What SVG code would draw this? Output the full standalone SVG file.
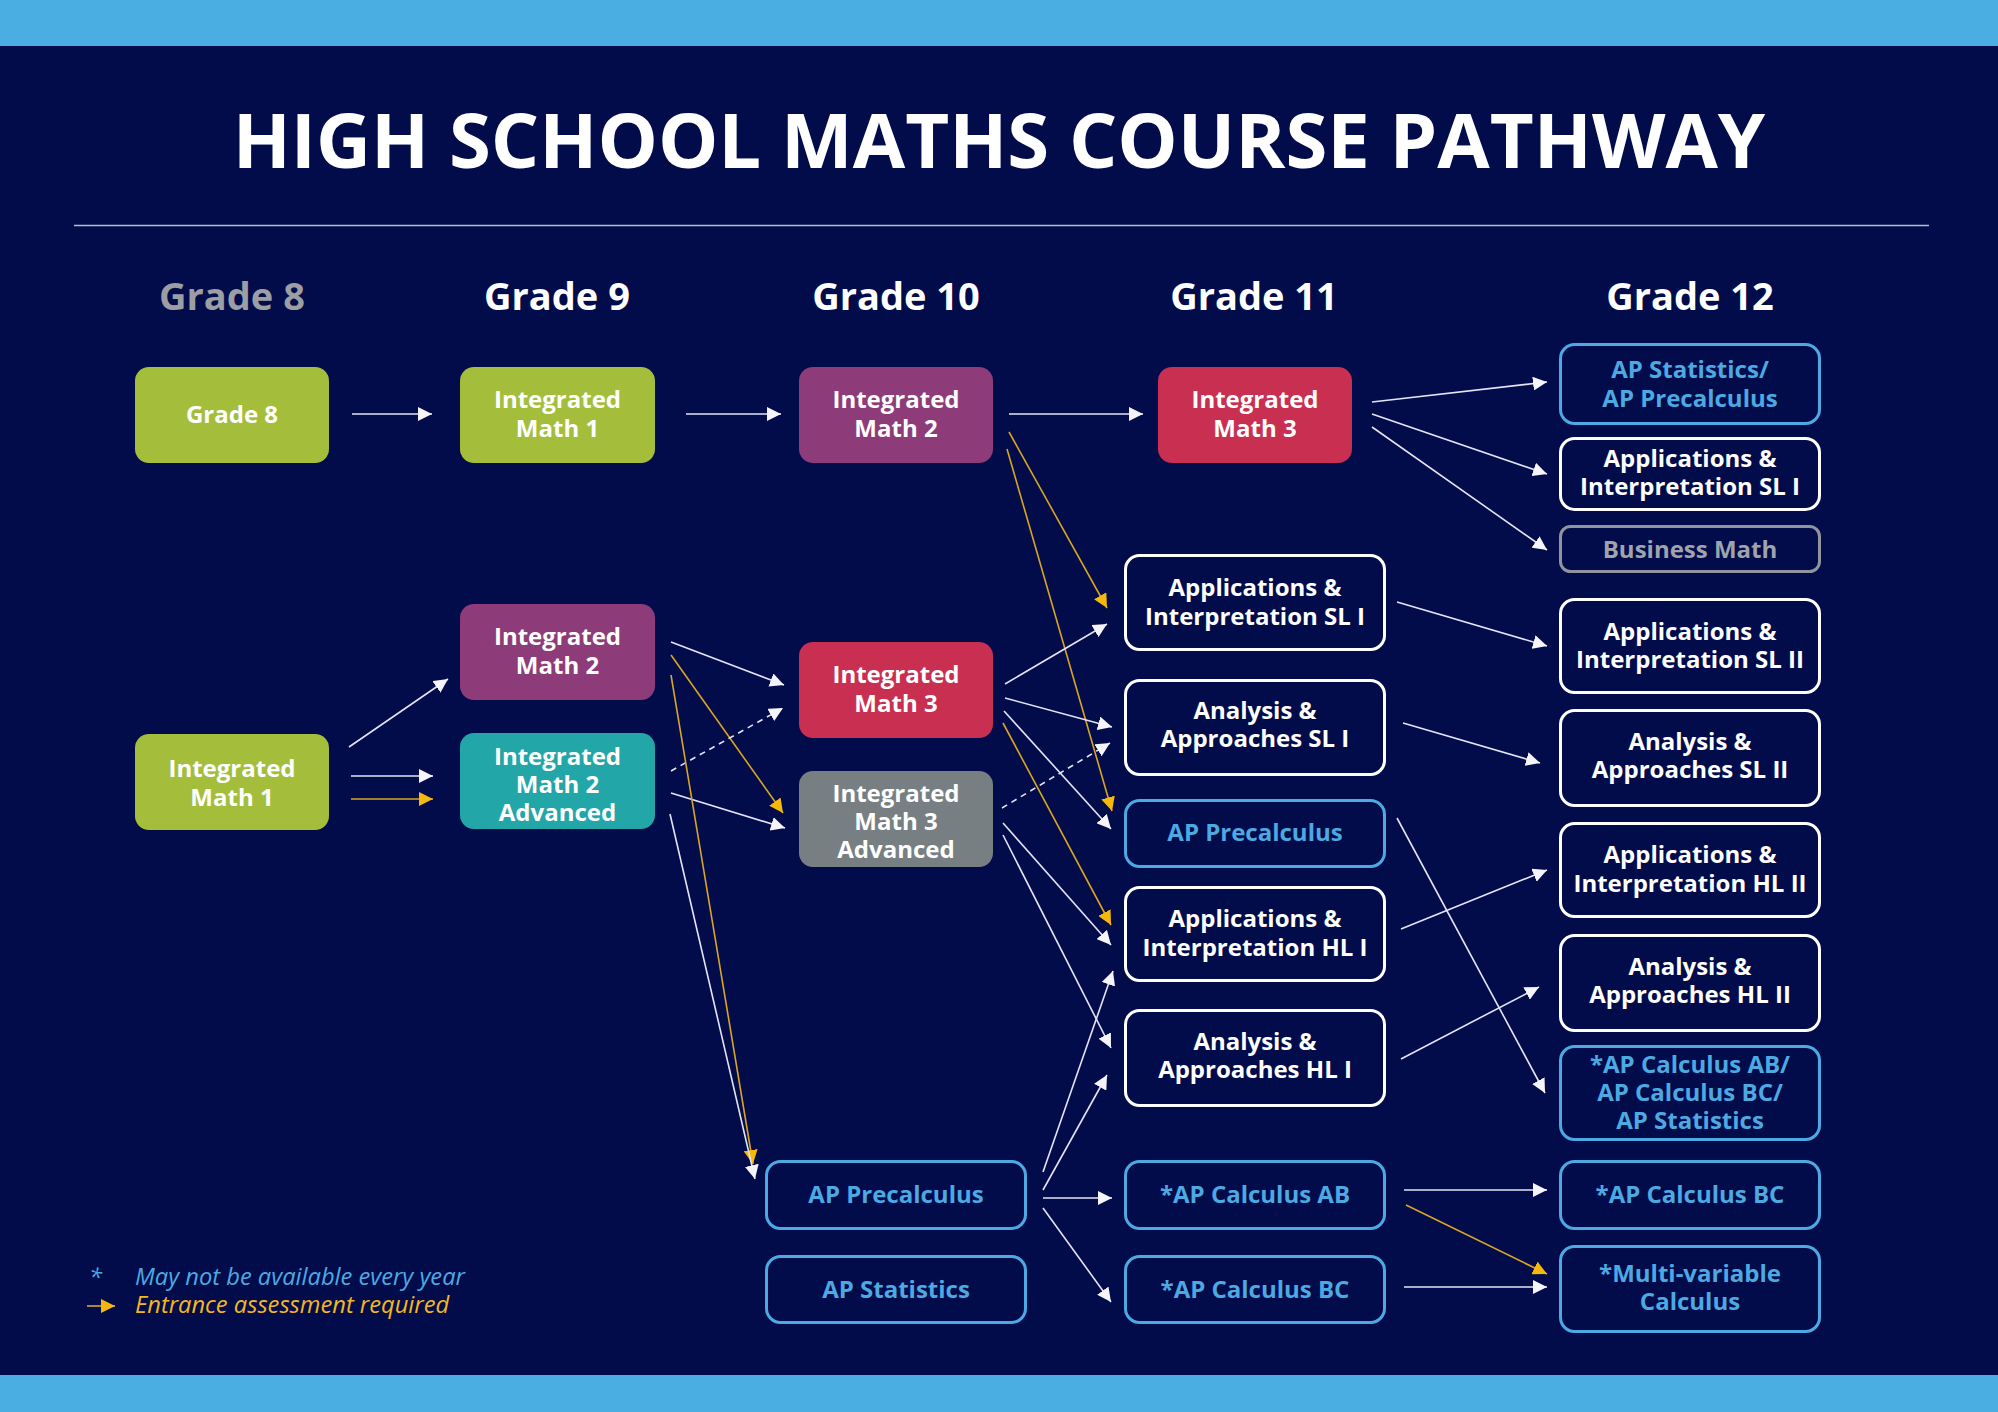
<svg xmlns="http://www.w3.org/2000/svg" width="1998" height="1412" viewBox="0 0 1998 1412">
<defs>
<style>
.t{font-family:"Open Sans","Noto Sans","Liberation Sans",sans-serif;font-weight:700;text-anchor:middle}
.nt{font-size:24px}
.w{fill:#ffffff}
.b{fill:#4da9e2}
.g{fill:#9ea3ad}
.ob{fill:#020c4b;stroke:#4da9e2;stroke-width:3}
.ow{fill:#020c4b;stroke:#ffffff;stroke-width:3}
.og{fill:#020c4b;stroke:#8f949e;stroke-width:3}
.cw{stroke:#e4e4f4;stroke-width:1.6;fill:none;marker-end:url(#aw)}
.cy{stroke:#d9a622;stroke-width:1.6;fill:none;marker-end:url(#ay)}
.cd{stroke:#e4e4f4;stroke-width:1.6;fill:none;stroke-dasharray:6 5;marker-end:url(#aw)}
.lg{font-family:"Open Sans","Noto Sans","Liberation Sans",sans-serif;font-style:italic;font-size:23.7px}
</style>
<marker id="aw" markerWidth="14" markerHeight="14" refX="14" refY="7" orient="auto" markerUnits="userSpaceOnUse"><path d="M0,0 L14,7 L0,14 z" fill="#f4f4fa"/></marker>
<marker id="ay" markerWidth="14" markerHeight="14" refX="14" refY="7" orient="auto" markerUnits="userSpaceOnUse"><path d="M0,0 L14,7 L0,14 z" fill="#f6b80c"/></marker>
</defs>
<rect x="0" y="0" width="1998" height="1412" fill="#020c4b"/>
<rect x="0" y="0" width="1998" height="46" fill="#4aaee2"/>
<rect x="0" y="1375" width="1998" height="37" fill="#4aaee2"/>
<text class="t w" x="999" y="168" font-size="76">HIGH SCHOOL MATHS COURSE PATHWAY</text>
<line x1="74" y1="225.5" x2="1929" y2="225.5" stroke="#b9bdd0" stroke-width="1.5"/>
<g id="headings" class="t" font-size="38">
<text x="232" y="310" fill="#9c9ea3">Grade 8</text>
<text x="557" y="310" class="w">Grade 9</text>
<text x="896" y="310" class="w">Grade 10</text>
<text x="1254" y="310" class="w">Grade 11</text>
<text x="1690" y="310" class="w">Grade 12</text>
</g>
<g id="connectors">
<line class="cw" x1="352" y1="414" x2="432" y2="414"/>
<line class="cw" x1="686" y1="414" x2="781" y2="414"/>
<line class="cw" x1="1009" y1="414" x2="1143" y2="414"/>
<line class="cw" x1="1372" y1="402" x2="1547" y2="382"/>
<line class="cw" x1="1372" y1="414" x2="1547" y2="474"/>
<line class="cw" x1="1372" y1="427" x2="1547" y2="550"/>
<line class="cw" x1="1397" y1="602" x2="1547" y2="646"/>
<line class="cw" x1="1403" y1="723" x2="1540" y2="763"/>
<line class="cw" x1="1397" y1="818" x2="1545" y2="1093"/>
<line class="cw" x1="1401" y1="929" x2="1547" y2="870"/>
<line class="cw" x1="1401" y1="1059" x2="1539" y2="987"/>
<line class="cw" x1="1404" y1="1190" x2="1547" y2="1190"/>
<line class="cy" x1="1406" y1="1205" x2="1547" y2="1274"/>
<line class="cw" x1="1404" y1="1287" x2="1547" y2="1287"/>
<line class="cw" x1="1043" y1="1172" x2="1113" y2="971"/>
<line class="cw" x1="1043" y1="1190" x2="1107" y2="1075"/>
<line class="cw" x1="1043" y1="1198" x2="1112" y2="1198"/>
<line class="cw" x1="1043" y1="1208" x2="1111" y2="1302"/>
<line class="cw" x1="349" y1="747" x2="448" y2="679"/>
<line class="cw" x1="351" y1="776" x2="433" y2="776"/>
<line class="cy" x1="351" y1="799" x2="433" y2="799"/>
<line class="cw" x1="671" y1="642" x2="784" y2="685"/>
<line class="cy" x1="671" y1="655" x2="783" y2="813"/>
<line class="cd" x1="671" y1="771" x2="783" y2="708"/>
<line class="cw" x1="671" y1="793" x2="785" y2="828"/>
<line class="cy" x1="671" y1="675" x2="753" y2="1164"/>
<line class="cw" x1="670" y1="814" x2="755" y2="1179"/>
<line class="cy" x1="1009" y1="432" x2="1107" y2="608"/>
<line class="cy" x1="1007" y1="449" x2="1112" y2="811"/>
<line class="cw" x1="1005" y1="684" x2="1107" y2="624"/>
<line class="cw" x1="1005" y1="698" x2="1112" y2="727"/>
<line class="cw" x1="1004" y1="711" x2="1111" y2="829"/>
<line class="cy" x1="1003" y1="723" x2="1111" y2="925"/>
<line class="cd" x1="1002" y1="808" x2="1110" y2="743"/>
<line class="cw" x1="1003" y1="823" x2="1111" y2="945"/>
<line class="cw" x1="1003" y1="835" x2="1111" y2="1048"/>
</g>
<g id="g8-grade8"><rect x="135" y="367" width="194" height="96" rx="14" fill="#a4be3c"/><text class="t nt w" x="232" y="423">Grade 8</text></g>
<g id="g8-im1"><rect x="135" y="734" width="194" height="96" rx="14" fill="#a4be3c"/><text class="t nt w"><tspan x="232" y="777">Integrated</tspan><tspan x="232" y="806">Math 1</tspan></text></g>
<g id="g9-im1"><rect x="460" y="367" width="195" height="96" rx="14" fill="#a4be3c"/><text class="t nt w"><tspan x="557.5" y="408">Integrated</tspan><tspan x="557.5" y="437">Math 1</tspan></text></g>
<g id="g9-im2"><rect x="460" y="604" width="195" height="96" rx="14" fill="#8e3b79"/><text class="t nt w"><tspan x="557.5" y="645">Integrated</tspan><tspan x="557.5" y="674">Math 2</tspan></text></g>
<g id="g9-im2adv"><rect x="460" y="733" width="195" height="96" rx="14" fill="#23a6a7"/><text class="t nt w"><tspan x="557.5" y="765">Integrated</tspan><tspan x="557.5" y="793">Math 2</tspan><tspan x="557.5" y="821">Advanced</tspan></text></g>
<g id="g10-im2"><rect x="799" y="367" width="194" height="96" rx="14" fill="#8e3b79"/><text class="t nt w"><tspan x="896" y="408">Integrated</tspan><tspan x="896" y="437">Math 2</tspan></text></g>
<g id="g10-im3"><rect x="799" y="642" width="194" height="96" rx="14" fill="#c92f51"/><text class="t nt w"><tspan x="896" y="683">Integrated</tspan><tspan x="896" y="712">Math 3</tspan></text></g>
<g id="g10-im3adv"><rect x="799" y="771" width="194" height="96" rx="14" fill="#787f83"/><text class="t nt w"><tspan x="896" y="802">Integrated</tspan><tspan x="896" y="830">Math 3</tspan><tspan x="896" y="858">Advanced</tspan></text></g>
<g id="g10-apprecalc"><rect x="766.5" y="1161.5" width="259" height="67" rx="14" class="ob"/><text class="t nt b" x="896" y="1203">AP Precalculus</text></g>
<g id="g10-apstats"><rect x="766.5" y="1256.5" width="259" height="66" rx="14" class="ob"/><text class="t nt b" x="896" y="1298">AP Statistics</text></g>
<g id="g11-im3"><rect x="1158" y="367" width="194" height="96" rx="14" fill="#c92f51"/><text class="t nt w"><tspan x="1255" y="408">Integrated</tspan><tspan x="1255" y="437">Math 3</tspan></text></g>
<g id="g11-aisl1"><rect x="1125.5" y="555.5" width="259" height="94" rx="14" class="ow"/><text class="t nt w"><tspan x="1255" y="596">Applications &amp;</tspan><tspan x="1255" y="625">Interpretation SL I</tspan></text></g>
<g id="g11-aasl1"><rect x="1125.5" y="680.5" width="259" height="94" rx="14" class="ow"/><text class="t nt w"><tspan x="1255" y="719">Analysis &amp;</tspan><tspan x="1255" y="747">Approaches SL I</tspan></text></g>
<g id="g11-apprecalc"><rect x="1125.5" y="800.5" width="259" height="66" rx="14" class="ob"/><text class="t nt b" x="1255" y="841">AP Precalculus</text></g>
<g id="g11-aihl1"><rect x="1125.5" y="887.5" width="259" height="93" rx="14" class="ow"/><text class="t nt w"><tspan x="1255" y="927">Applications &amp;</tspan><tspan x="1255" y="956">Interpretation HL I</tspan></text></g>
<g id="g11-aahl1"><rect x="1125.5" y="1010.5" width="259" height="95" rx="14" class="ow"/><text class="t nt w"><tspan x="1255" y="1050">Analysis &amp;</tspan><tspan x="1255" y="1078">Approaches HL I</tspan></text></g>
<g id="g11-apcalcab"><rect x="1125.5" y="1161.5" width="259" height="67" rx="14" class="ob"/><text class="t nt b" x="1255" y="1203">*AP Calculus AB</text></g>
<g id="g11-apcalcbc"><rect x="1125.5" y="1256.5" width="259" height="66" rx="14" class="ob"/><text class="t nt b" x="1255" y="1298">*AP Calculus BC</text></g>
<g id="g12-apstats-precalc"><rect x="1560.5" y="344.5" width="259" height="79" rx="14" class="ob"/><text class="t nt b"><tspan x="1690" y="378">AP Statistics/</tspan><tspan x="1690" y="407">AP Precalculus</tspan></text></g>
<g id="g12-aisl1"><rect x="1560.5" y="438.5" width="259" height="71" rx="14" class="ow"/><text class="t nt w"><tspan x="1690" y="467">Applications &amp;</tspan><tspan x="1690" y="495">Interpretation SL I</tspan></text></g>
<g id="g12-business"><rect x="1560.5" y="526.5" width="259" height="45" rx="10" class="og"/><text class="t nt g" x="1690" y="558">Business Math</text></g>
<g id="g12-aisl2"><rect x="1560.5" y="599.5" width="259" height="93" rx="14" class="ow"/><text class="t nt w"><tspan x="1690" y="640">Applications &amp;</tspan><tspan x="1690" y="668">Interpretation SL II</tspan></text></g>
<g id="g12-aasl2"><rect x="1560.5" y="710.5" width="259" height="95" rx="14" class="ow"/><text class="t nt w"><tspan x="1690" y="750">Analysis &amp;</tspan><tspan x="1690" y="778">Approaches SL II</tspan></text></g>
<g id="g12-aihl2"><rect x="1560.5" y="823.5" width="259" height="93" rx="14" class="ow"/><text class="t nt w"><tspan x="1690" y="863">Applications &amp;</tspan><tspan x="1690" y="892">Interpretation HL II</tspan></text></g>
<g id="g12-aahl2"><rect x="1560.5" y="935.5" width="259" height="95" rx="14" class="ow"/><text class="t nt w"><tspan x="1690" y="975">Analysis &amp;</tspan><tspan x="1690" y="1003">Approaches HL II</tspan></text></g>
<g id="g12-apcalc-stats"><rect x="1560.5" y="1046.5" width="259" height="93" rx="14" class="ob"/><text class="t nt b"><tspan x="1690" y="1073">*AP Calculus AB/</tspan><tspan x="1690" y="1101">AP Calculus BC/</tspan><tspan x="1690" y="1129">AP Statistics</tspan></text></g>
<g id="g12-apcalcbc"><rect x="1560.5" y="1161.5" width="259" height="67" rx="14" class="ob"/><text class="t nt b" x="1690" y="1203">*AP Calculus BC</text></g>
<g id="g12-multivar"><rect x="1560.5" y="1246.5" width="259" height="85" rx="14" class="ob"/><text class="t nt b"><tspan x="1690" y="1282">*Multi-variable</tspan><tspan x="1690" y="1310">Calculus</tspan></text></g>
<g id="legend">
<text class="lg" x="89" y="1285" fill="#4da9e2">*</text>
<text class="lg" x="135" y="1285" fill="#4da9e2">May not be available every year</text>
<line class="cy" x1="87" y1="1306" x2="115" y2="1306"/>
<text class="lg" x="135" y="1313" fill="#f2b81e">Entrance assessment required</text>
</g>
</svg>
